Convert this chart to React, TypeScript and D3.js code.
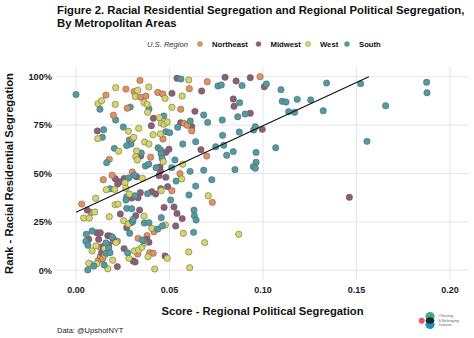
import React from "react";
import * as d3 from "d3";

// [score, rank %]
const northeast: [number, number][] = [
  [0.016, 90.5], [0.0267, 93.6], [0.031, 92.3], [0.0342, 98.1], [0.0346, 89.4], [0.0374, 90.0],
  [0.02, 80.1], [0.0274, 83.7], [0.0437, 91.9], [0.0464, 91.1], [0.0606, 93.8], [0.056, 83.2],
  [0.0303, 67.8], [0.0178, 57.3], [0.0465, 67.8], [0.0399, 58.4], [0.0578, 75.9], [0.0595, 74.9],
  [0.0619, 72.0], [0.0556, 49.9], [0.0146, 46.8], [0.0193, 49.1], [0.0301, 50.8], [0.0513, 41.1],
  [0.0702, 97.4], [0.0699, 59.0], [0.0729, 35.1], [0.0984, 100], [0.003, 34.2], [0.008, 29.8],
  [0.0417, 19.9], [0.013, 12.0], [0.0205, 15.1], [0.0221, 15.0], [0.0119, 5.0], [0.013, 7.2],
  [0.0143, 6.0], [0.033, 8.4], [0.0394, 9.1], [0.0413, 8.8], [0.0332, 16.5], [0.038, 17.9],
];

const midwest: [number, number][] = [
  [0.0513, 91.4], [0.054, 99.2], [0.0414, 78.5], [0.0636, 82.1], [0.0114, 72.0], [0.0346, 59.0],
  [0.0403, 74.7], [0.048, 60.9], [0.0497, 62.5], [0.0449, 53.4], [0.0451, 51.3], [0.0444, 48.9],
  [0.048, 48.0], [0.056, 76.2], [0.0619, 74.2], [0.049, 43.2], [0.021, 47.3], [0.0235, 45.8],
  [0.0258, 47.5], [0.0324, 48.3], [0.0223, 44.6], [0.0298, 37.3], [0.0332, 37.5], [0.0344, 40.1],
  [0.0405, 40.6], [0.0426, 39.4], [0.0453, 42.1], [0.0672, 92.6], [0.0797, 99.7], [0.0668, 62.3],
  [0.0856, 97.8], [0.0932, 99.5], [0.1007, 94.8], [0.0841, 88.5], [0.0845, 84.7], [0.0932, 81.1],
  [0.0996, 72.8], [0.1462, 37.7], [0.006, 31.1], [0.0237, 29.1], [0.0271, 22.0], [0.0293, 24.6],
  [0.0319, 28.2], [0.034, 31.1], [0.0471, 32.5], [0.0524, 32.7], [0.054, 29.4], [0.0568, 26.7],
  [0.0533, 22.9], [0.0068, 16.0], [0.0111, 19.4], [0.013, 19.4], [0.0121, 16.0], [0.0146, 12.2],
  [0.017, 17.9], [0.0182, 17.7], [0.02, 16.0], [0.0175, 13.2], [0.0137, 9.1], [0.0221, 1.9],
  [0.0306, 4.8], [0.0316, 4.3], [0.0257, 11.2], [0.0378, 16.0], [0.039, 14.5], [0.0476, 7.4],
];

const west: [number, number][] = [
  [0.0118, 86.1], [0.0137, 87.6], [0.0212, 94.3], [0.033, 93.0], [0.0317, 89.7], [0.0389, 94.7],
  [0.0364, 86.6], [0.0381, 85.7], [0.0383, 81.6], [0.021, 85.7], [0.0476, 88.8], [0.0603, 98.3],
  [0.0568, 90.0], [0.0446, 78.8], [0.0456, 75.9], [0.0471, 75.4], [0.0488, 76.6], [0.0513, 84.2],
  [0.0116, 68.0], [0.028, 71.8], [0.0309, 68.7], [0.0335, 73.3], [0.0324, 61.6], [0.0319, 58.7],
  [0.0328, 57.0], [0.0228, 61.5], [0.0367, 66.3], [0.039, 65.2], [0.0412, 70.0], [0.0451, 70.4],
  [0.0467, 56.1], [0.0571, 54.8], [0.0565, 47.2], [0.0456, 41.1], [0.0262, 45.2], [0.0355, 47.5],
  [0.0266, 42.4], [0.0162, 41.6], [0.0207, 41.8], [0.0285, 39.4], [0.0105, 37.2], [0.0707, 38.5],
  [0.087, 18.6], [0.01, 30.1], [0.0041, 27.0], [0.0071, 26.9], [0.0178, 27.7], [0.0209, 33.9],
  [0.0225, 34.2], [0.0255, 25.6], [0.028, 23.9], [0.0364, 28.0], [0.0405, 21.7], [0.0478, 23.4],
  [0.0574, 19.1], [0.0688, 14.3], [0.0603, 9.5], [0.0608, 1.3], [0.0086, 10.0], [0.0107, 12.6],
  [0.0214, 14.3], [0.0153, 11.2], [0.0155, 7.9], [0.0196, 5.2], [0.017, 0.8], [0.0111, 3.3],
  [0.0075, 3.3], [0.0068, 3.6], [0.0283, 6.2], [0.0312, 10.0], [0.0335, 10.5], [0.0353, 11.9],
  [0.0365, 14.3], [0.0385, 7.0], [0.0488, 6.2], [0.0421, 0.7],
];

const south: [number, number][] = [
  [0.0, 90.8], [0.0128, 83.2], [0.039, 83.3], [0.0212, 77.6], [0.029, 84.3], [0.0561, 98.8],
  [0.0469, 79.7], [0.0148, 72.6], [0.0141, 68.7], [0.0253, 74.0], [0.0285, 67.3], [0.0294, 65.2],
  [0.0271, 64.4], [0.0205, 63.0], [0.0164, 55.6], [0.0349, 60.6], [0.048, 71.6], [0.0501, 71.1],
  [0.0439, 63.3], [0.0453, 62.1], [0.0455, 60.2], [0.046, 57.9], [0.0371, 53.9], [0.0389, 54.8],
  [0.0428, 53.0], [0.0512, 53.0], [0.0529, 57.0], [0.0544, 73.9], [0.0611, 77.1], [0.0571, 65.2],
  [0.061, 51.1], [0.0535, 46.1], [0.0282, 47.7], [0.0312, 49.1], [0.0182, 42.1], [0.0271, 38.0],
  [0.0314, 38.5], [0.0267, 36.3], [0.0383, 39.6], [0.0506, 36.3], [0.0604, 38.9], [0.064, 43.5],
  [0.064, 66.4], [0.0759, 95.2], [0.0777, 95.7], [0.0683, 80.2], [0.0704, 76.4], [0.0782, 77.6],
  [0.0784, 69.7], [0.0747, 63.8], [0.079, 64.6], [0.0806, 59.4], [0.0683, 51.7], [0.0726, 46.8],
  [0.0888, 95.4], [0.1018, 96.2], [0.0875, 86.6], [0.0865, 79.3], [0.0904, 80.7], [0.1096, 93.3],
  [0.1103, 87.3], [0.1123, 86.9], [0.1183, 88.3], [0.1255, 88.0], [0.134, 96.7], [0.1522, 96.4],
  [0.1137, 81.9], [0.1169, 81.6], [0.1322, 82.4], [0.1656, 85.0], [0.1875, 97.1], [0.1877, 91.7],
  [0.0873, 71.4], [0.095, 72.5], [0.0959, 74.2], [0.1556, 66.6], [0.1068, 63.3], [0.0841, 61.3],
  [0.0963, 60.9], [0.0963, 55.8], [0.0948, 53.5], [0.0959, 52.7], [0.085, 52.0], [0.0287, 19.1],
  [0.0303, 25.1], [0.0305, 26.3], [0.0271, 32.0], [0.0298, 31.8], [0.0365, 24.4], [0.039, 24.6],
  [0.0437, 21.3], [0.0462, 22.9], [0.0456, 27.2], [0.0631, 31.1], [0.0633, 28.2], [0.0642, 26.0],
  [0.0629, 19.6], [0.0086, 20.3], [0.0055, 18.6], [0.0053, 15.0], [0.0064, 12.9], [0.016, 14.1],
  [0.016, 8.8], [0.0194, 17.2], [0.0175, 11.5], [0.0182, 9.1], [0.0151, 2.7], [0.0063, 0.2],
  [0.0095, 2.2], [0.0276, 9.1], [0.0362, 15.3], [0.0355, 15.7],
];

const regions = ["Northeast", "Midwest", "West", "South"];
const regionColors = ["#E6915C", "#8E5E79", "#D4D762", "#4E9DA3"];
const regionData = [northeast, midwest, west, south];

const xTicks = [0, 0.05, 0.1, 0.15, 0.2];
const yTicks = [0, 25, 50, 75, 100];

// linear fit shown in the chart (rank % = intercept + slope * score)
const fitIntercept = 30.0;
const fitSlope = 447;

export default function App() {
  const W = 474, H = 338;
  const x = d3.scaleLinear().domain([-0.0107, 0.21016]).range([56, 469]);
  const y = d3.scaleLinear().domain([-5.01, 105.01]).range([280, 67]);

  // interleave the regions for drawing order
  const pts: { v: [number, number]; c: string }[] = [];
  const maxLen = d3.max(regionData, (d) => d.length) || 0;
  for (let i = 0; i < maxLen; i++) {
    [3, 1, 2, 0].forEach((r) => {
      if (regionData[r][i]) pts.push({ v: regionData[r][i], c: regionColors[r] });
    });
  }

  const xEnd = (100 - fitIntercept) / fitSlope;
  const line = d3.line<number>().x((d) => x(d)).y((d) => y(fitIntercept + fitSlope * d));

  const font = "'Liberation Sans', Arial, Helvetica, sans-serif";

  // legend layout
  const legendY = 44;
  const legendItems = [
    { dot: 200, text: 212 },
    { dot: 258.5, text: 270.5 },
    { dot: 308, text: 320 },
    { dot: 347, text: 359 },
  ];

  return (
    <svg width={W} height={H} style={{ position: "absolute", left: 0, top: 0, background: "#fff" }} fontFamily={font}>
      <rect width={W} height={H} fill="#fff" />
      {/* title */}
      <text x={57} y={14} fontSize={11.3} fontWeight="bold" fill="#111">
        Figure 2. Racial Residential Segregation and Regional Political Segregation,
      </text>
      <text x={57} y={26.5} fontSize={11.3} fontWeight="bold" fill="#111">
        By Metropolitan Areas
      </text>

      {/* legend */}
      <text x={147} y={legendY + 2.7} fontSize={7.6} fontStyle="italic" fill="#333">U.S. Region</text>
      {regions.map((r, i) => (
        <g key={r}>
          <circle cx={legendItems[i].dot} cy={legendY} r={2.6} fill={regionColors[i]} stroke="#888" strokeWidth={0.4} />
          <text x={legendItems[i].text} y={legendY + 2.7} fontSize={7.7} fontWeight="bold" fill="#111">{r}</text>
        </g>
      ))}

      {/* grid */}
      {yTicks.map((t) => (
        <line key={"gy" + t} x1={56} x2={469} y1={y(t)} y2={y(t)} stroke="#E6E6E6" strokeWidth={1} />
      ))}
      {xTicks.map((t) => (
        <line key={"gx" + t} x1={x(t)} x2={x(t)} y1={67} y2={280} stroke="#E6E6E6" strokeWidth={1} />
      ))}

      {/* points */}
      {pts.map((p, i) => (
        <circle key={i} cx={x(p.v[0])} cy={y(p.v[1])} r={3.2} fill={p.c} stroke="#5a5a5a" strokeWidth={0.5} />
      ))}

      {/* fit line */}
      <path d={line([0, xEnd]) || ""} fill="none" stroke="#111" strokeWidth={1.1} />

      {/* tick labels */}
      {yTicks.map((t) => (
        <text key={"yl" + t} x={52} y={y(t) + 3.3} fontSize={9.2} fontWeight="bold" textAnchor="end" fill="#222">
          {t + "%"}
        </text>
      ))}
      {xTicks.map((t) => (
        <text key={"xl" + t} x={x(t)} y={292.5} fontSize={9} fontWeight="bold" textAnchor="middle" fill="#222">
          {d3.format(".2f")(t)}
        </text>
      ))}

      {/* axis titles */}
      <text x={262.5} y={314.5} fontSize={11.2} fontWeight="bold" textAnchor="middle" fill="#111">
        Score - Regional Political Segregation
      </text>
      <text transform={`translate(13,173.5) rotate(-90)`} fontSize={11.2} fontWeight="bold" textAnchor="middle" fill="#111">
        Rank - Racial Residential Segregation
      </text>

      {/* caption */}
      <text x={57} y={332.5} fontSize={7.5} fill="#222">Data: @UpshotNYT</text>

      {/* logo */}
      <g>
        <circle cx={421.7} cy={320.7} r={3} fill="#E8555A" />
        <circle cx={430} cy={316.5} r={4.6} fill="#3DAE7E" />
        <circle cx={430} cy={324.5} r={4.6} fill="#1E8FB5" />
        <path d={`M425.6,320.5 A4.6,4.6 0 0 1 434.4,320.5 A4.6,4.6 0 0 1 425.6,320.5 Z`} fill="#1a2a2a" />
        <text x={438.5} y={317} fontSize={3.8} fill="#666">Othering</text>
        <text x={438.5} y={321.5} fontSize={3.8} fill="#666">&amp; Belonging</text>
        <text x={438.5} y={326} fontSize={3.8} fill="#666">Institute</text>
      </g>
    </svg>
  );
}
